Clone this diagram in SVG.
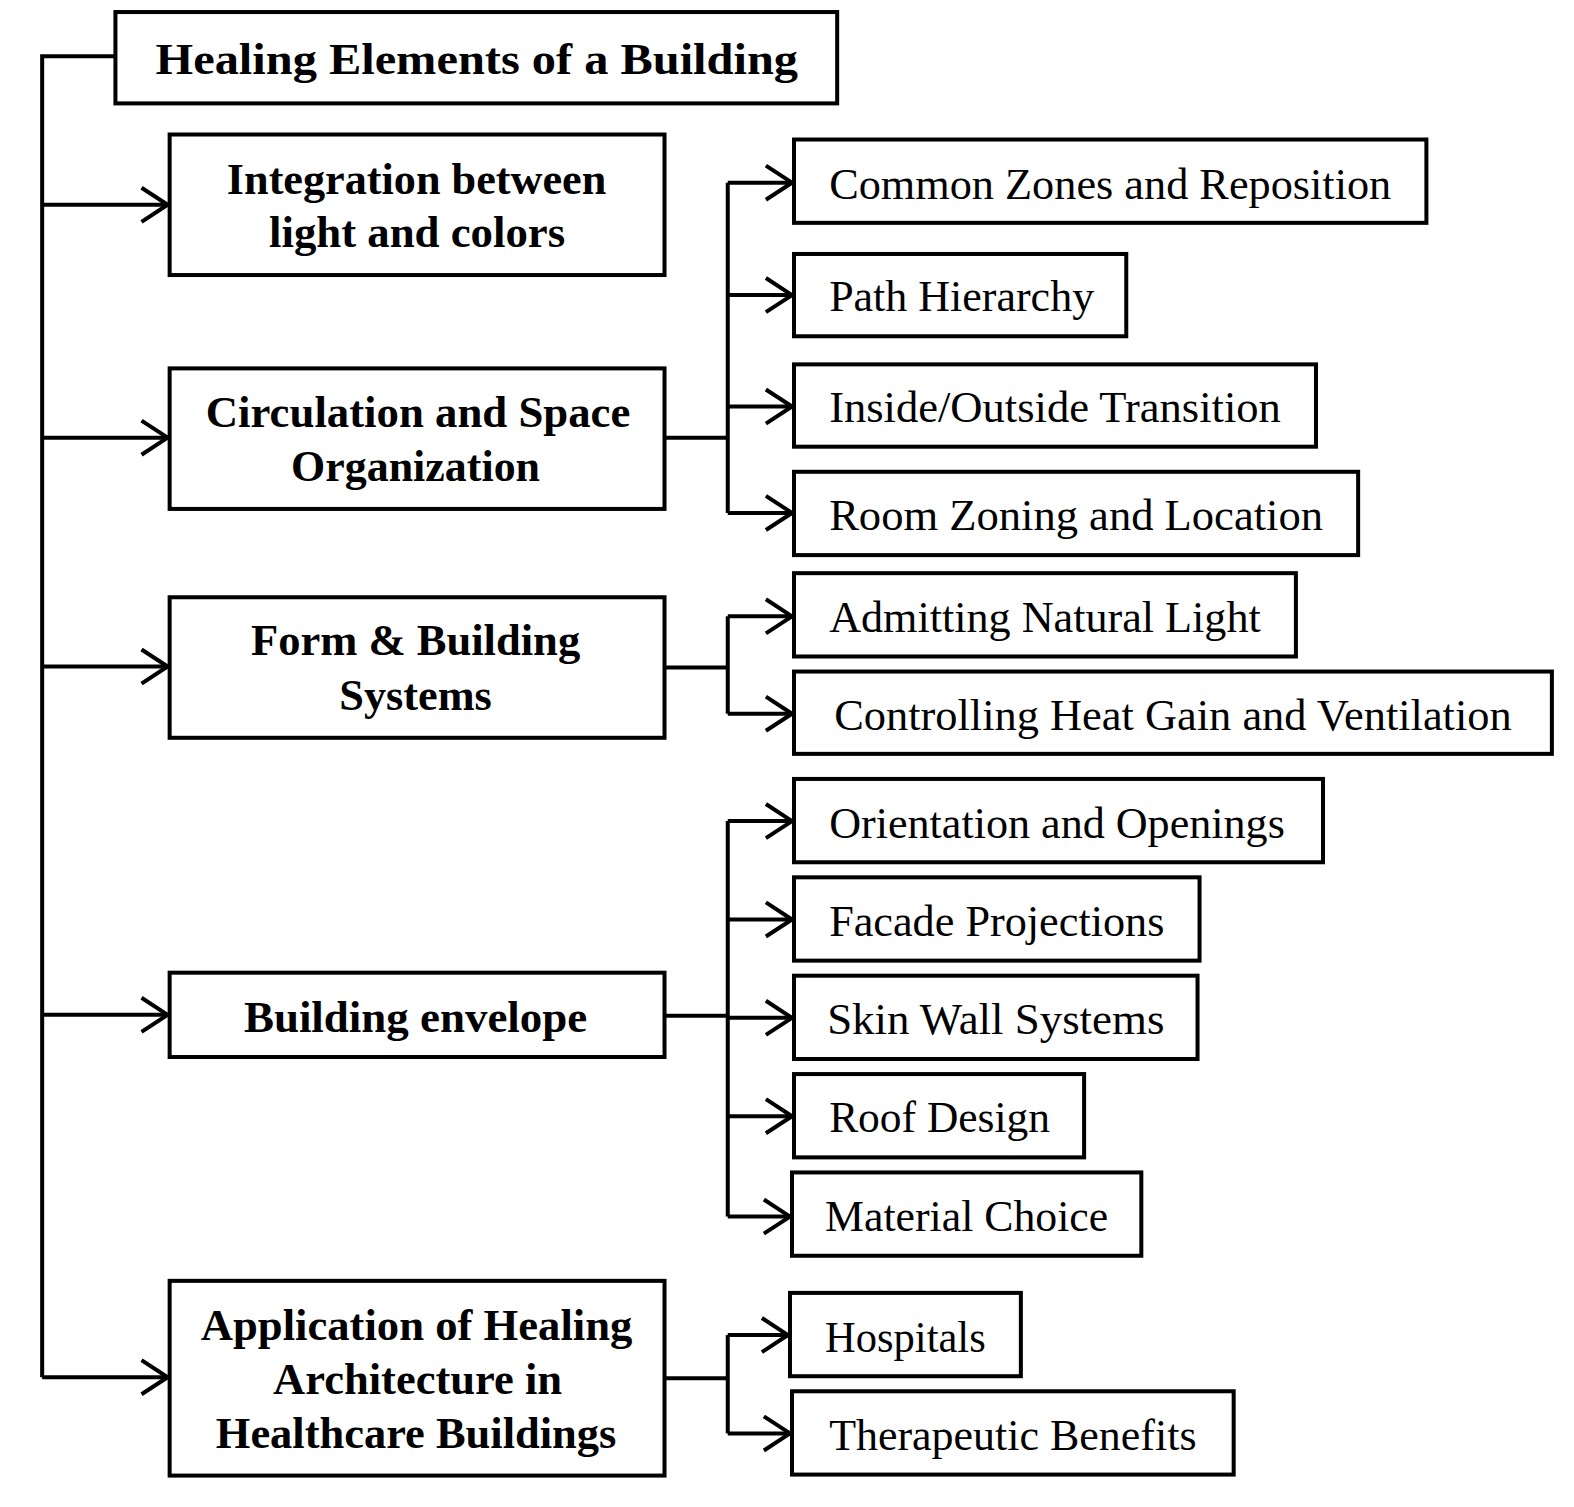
<svg xmlns="http://www.w3.org/2000/svg" width="1574" height="1507" viewBox="0 0 1574 1507">
<style>
.box{fill:#fff;stroke:#000;stroke-width:4}
.b{font-family:"Liberation Serif","Times New Roman",serif;font-weight:bold;font-size:45px;fill:#000}
.r{font-family:"Liberation Serif","Times New Roman",serif;font-size:45px;fill:#000}
.c{fill:none;stroke:#000;stroke-width:4}
</style>
<defs>
<marker id="ah" markerUnits="userSpaceOnUse" markerWidth="34" markerHeight="44" viewBox="-32 -22 34 44" refX="0" refY="0" orient="auto">
<path d="M-27,-17 L-1,0 L-27,17" fill="none" stroke="#000" stroke-width="4"/>
</marker>
</defs>
<rect width="1574" height="1507" fill="#fff"/>
<g transform="scale(1.0038)">
<g id="connectors">
<path class="c" d="M115,56 H42 V1372"/>
<path class="c" d="M42,204 H168" marker-end="url(#ah)"/>
<path class="c" d="M42,436 H168" marker-end="url(#ah)"/>
<path class="c" d="M42,664 H168" marker-end="url(#ah)"/>
<path class="c" d="M42,1011 H168" marker-end="url(#ah)"/>
<path class="c" d="M42,1372 H168" marker-end="url(#ah)"/>
<path class="c" d="M662,436 H725"/>
<path class="c" d="M725,182 V511"/>
<path class="c" d="M725,182 H790" marker-end="url(#ah)"/>
<path class="c" d="M725,294 H790" marker-end="url(#ah)"/>
<path class="c" d="M725,405 H790" marker-end="url(#ah)"/>
<path class="c" d="M725,511 H790" marker-end="url(#ah)"/>
<path class="c" d="M662,665 H725"/>
<path class="c" d="M725,614 V711"/>
<path class="c" d="M725,614 H790" marker-end="url(#ah)"/>
<path class="c" d="M725,711 H790" marker-end="url(#ah)"/>
<path class="c" d="M662,1012 H725"/>
<path class="c" d="M725,818 V1212"/>
<path class="c" d="M725,818 H790" marker-end="url(#ah)"/>
<path class="c" d="M725,916 H790" marker-end="url(#ah)"/>
<path class="c" d="M725,1014 H790" marker-end="url(#ah)"/>
<path class="c" d="M725,1112 H790" marker-end="url(#ah)"/>
<path class="c" d="M725,1212 H788" marker-end="url(#ah)"/>
<path class="c" d="M662,1373 H725"/>
<path class="c" d="M725,1330 V1428"/>
<path class="c" d="M725,1330 H786" marker-end="url(#ah)"/>
<path class="c" d="M725,1428 H788" marker-end="url(#ah)"/>
</g>
<g id="title">
<rect class="box" x="115" y="12" width="719" height="91"/>
<text class="b" x="155" y="74" font-size="47" textLength="640" lengthAdjust="spacingAndGlyphs">Healing Elements of a Building</text>
</g>
<g id="integration">
<rect class="box" x="169" y="134" width="493" height="140"/>
<text class="b" x="226" y="193" textLength="378" lengthAdjust="spacingAndGlyphs">Integration between</text>
<text class="b" x="268" y="246" textLength="295" lengthAdjust="spacingAndGlyphs">light and colors</text>
</g>
<g id="circulation">
<rect class="box" x="169" y="367" width="493" height="140"/>
<text class="b" x="205" y="425" textLength="423" lengthAdjust="spacingAndGlyphs">Circulation and Space</text>
<text class="b" x="290" y="479" textLength="248" lengthAdjust="spacingAndGlyphs">Organization</text>
</g>
<g id="form">
<rect class="box" x="169" y="595" width="493" height="140"/>
<text class="b" x="250" y="653" textLength="328" lengthAdjust="spacingAndGlyphs">Form &amp; Building</text>
<text class="b" x="338" y="707" textLength="152" lengthAdjust="spacingAndGlyphs">Systems</text>
</g>
<g id="envelope">
<rect class="box" x="169" y="969" width="493" height="84"/>
<text class="b" x="243" y="1028" textLength="342" lengthAdjust="spacingAndGlyphs">Building envelope</text>
</g>
<g id="application">
<rect class="box" x="169" y="1276" width="493" height="194"/>
<text class="b" x="200" y="1335" textLength="430" lengthAdjust="spacingAndGlyphs">Application of Healing</text>
<text class="b" x="272" y="1389" textLength="288" lengthAdjust="spacingAndGlyphs">Architecture  in</text>
<text class="b" x="215" y="1443" textLength="399" lengthAdjust="spacingAndGlyphs">Healthcare  Buildings</text>
</g>
<g id="common">
<rect class="box" x="791" y="139" width="630" height="83"/>
<text class="r" x="826" y="198" textLength="560" lengthAdjust="spacingAndGlyphs">Common Zones and Reposition</text>
</g>
<g id="path">
<rect class="box" x="791" y="253" width="331" height="82"/>
<text class="r" x="826" y="310" textLength="264" lengthAdjust="spacingAndGlyphs">Path Hierarchy</text>
</g>
<g id="inside">
<rect class="box" x="791" y="363" width="520" height="82"/>
<text class="r" x="826" y="420" textLength="450" lengthAdjust="spacingAndGlyphs">Inside/Outside  Transition</text>
</g>
<g id="room">
<rect class="box" x="791" y="470" width="562" height="83"/>
<text class="r" x="826" y="528" textLength="492" lengthAdjust="spacingAndGlyphs">Room Zoning  and Location</text>
</g>
<g id="admitting">
<rect class="box" x="791" y="571" width="500" height="83"/>
<text class="r" x="826" y="630" textLength="430" lengthAdjust="spacingAndGlyphs">Admitting  Natural Light</text>
</g>
<g id="controlling">
<rect class="box" x="791" y="669" width="755" height="82"/>
<text class="r" x="831" y="727" textLength="675" lengthAdjust="spacingAndGlyphs">Controlling  Heat Gain and Ventilation</text>
</g>
<g id="orientation">
<rect class="box" x="791" y="776" width="527" height="83"/>
<text class="r" x="826" y="835" textLength="454" lengthAdjust="spacingAndGlyphs">Orientation  and Openings</text>
</g>
<g id="facade">
<rect class="box" x="791" y="874" width="404" height="83"/>
<text class="r" x="826" y="932" textLength="334" lengthAdjust="spacingAndGlyphs">Facade Projections</text>
</g>
<g id="skin">
<rect class="box" x="791" y="972" width="402" height="83"/>
<text class="r" x="824" y="1030" textLength="336" lengthAdjust="spacingAndGlyphs">Skin  Wall  Systems</text>
</g>
<g id="roof">
<rect class="box" x="791" y="1070" width="289" height="83"/>
<text class="r" x="826" y="1128" textLength="220" lengthAdjust="spacingAndGlyphs">Roof Design</text>
</g>
<g id="material">
<rect class="box" x="789" y="1168" width="348" height="83"/>
<text class="r" x="822" y="1226" textLength="282" lengthAdjust="spacingAndGlyphs">Material  Choice</text>
</g>
<g id="hospitals">
<rect class="box" x="787" y="1288" width="230" height="83"/>
<text class="r" x="822" y="1347" textLength="160" lengthAdjust="spacingAndGlyphs">Hospitals</text>
</g>
<g id="therapeutic">
<rect class="box" x="789" y="1386" width="440" height="83"/>
<text class="r" x="826" y="1445" textLength="366" lengthAdjust="spacingAndGlyphs">Therapeutic  Benefits</text>
</g>
</g>
</svg>
